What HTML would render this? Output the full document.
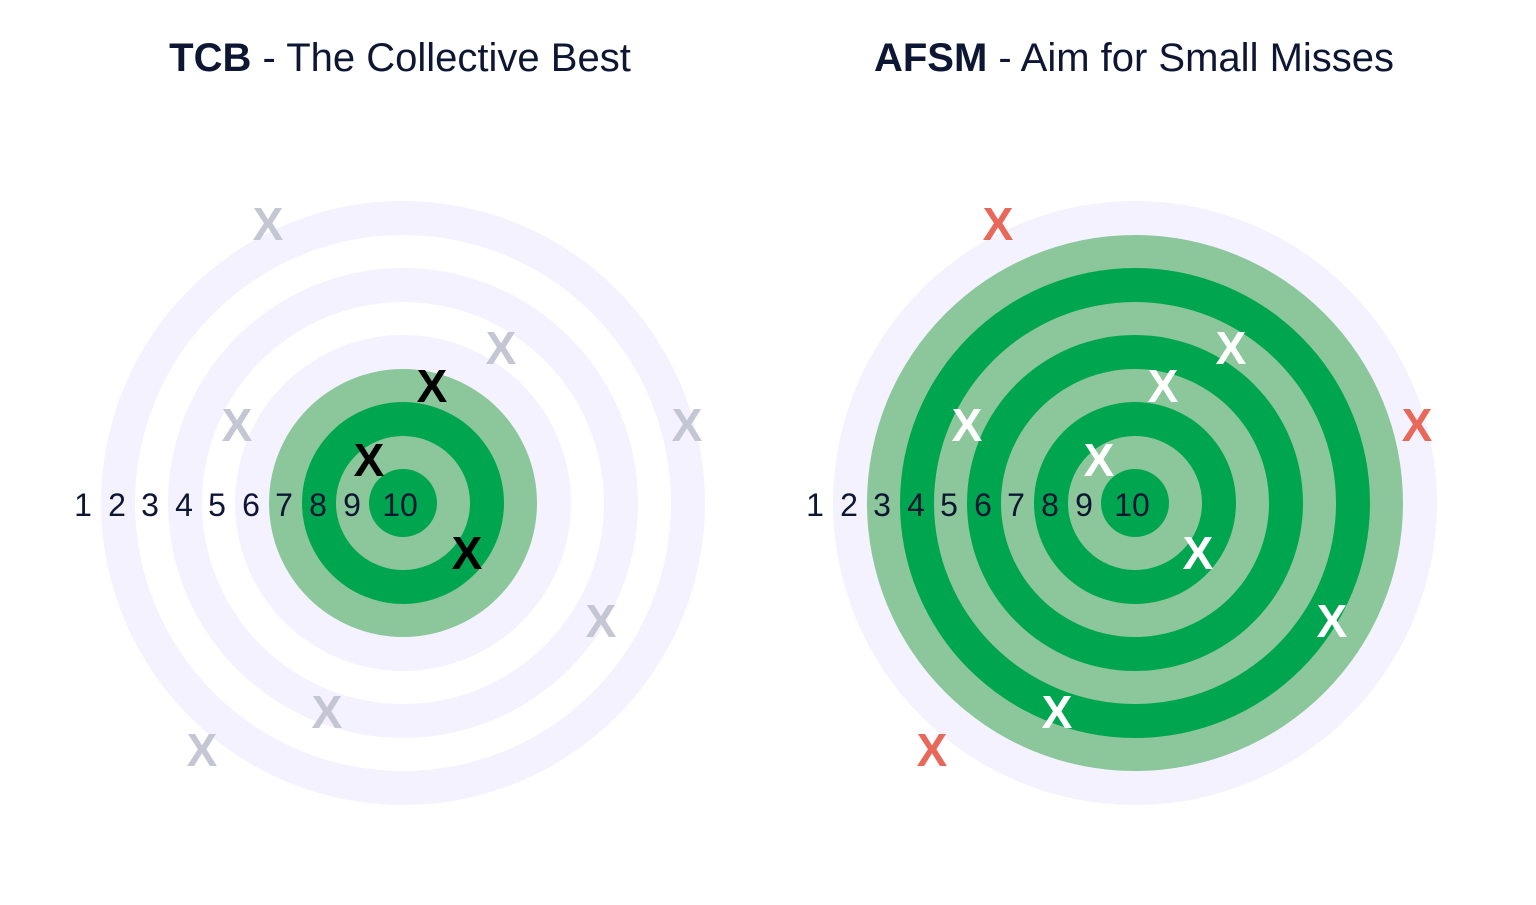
<!DOCTYPE html>
<html><head><meta charset="utf-8"><style>
html,body{margin:0;padding:0;background:#fff}
svg{display:block}
text{font-family:"Liberation Sans","DejaVu Sans",sans-serif}
</style></head><body>
<svg width="1536" height="905" viewBox="0 0 1536 905" xmlns="http://www.w3.org/2000/svg">
<rect width="1536" height="905" fill="#fff"/>
<text x="400" y="71" font-size="40" text-anchor="middle" fill="#0d1633"><tspan font-weight="bold">TCB</tspan> - The Collective Best</text>
<text x="1134" y="71" font-size="40" text-anchor="middle" fill="#0d1633"><tspan font-weight="bold">AFSM</tspan> - Aim for Small Misses</text>

<g transform="translate(403,503)">
<circle r="302" fill="#f3f2fe"/>
<circle r="268" fill="#fff"/>
<circle r="235" fill="#f3f2fe"/>
<circle r="201" fill="#fff"/>
<circle r="168" fill="#f3f2fe"/>
<circle r="134" fill="#8bc79a"/>
<circle r="101" fill="#00a64f"/>
<circle r="67" fill="#8bc79a"/>
<circle r="34" fill="#00a64f"/>
</g>
<g transform="translate(1135,503)">
<circle r="302" fill="#f3f2fe"/>
<circle r="268" fill="#8bc79a"/>
<circle r="235" fill="#00a64f"/>
<circle r="201" fill="#8bc79a"/>
<circle r="168" fill="#00a64f"/>
<circle r="134" fill="#8bc79a"/>
<circle r="101" fill="#00a64f"/>
<circle r="67" fill="#8bc79a"/>
<circle r="34" fill="#00a64f"/>
</g>

<g font-size="32" fill="#0d1633" text-anchor="middle">
<text x="83" y="516">1</text><text x="117" y="516">2</text><text x="150" y="516">3</text><text x="184" y="516">4</text><text x="217" y="516">5</text><text x="251" y="516">6</text><text x="284" y="516">7</text><text x="318" y="516">8</text><text x="352" y="516">9</text><text x="400" y="516">10</text>
<text x="815" y="516">1</text><text x="849" y="516">2</text><text x="882" y="516">3</text><text x="916" y="516">4</text><text x="949" y="516">5</text><text x="983" y="516">6</text><text x="1016" y="516">7</text><text x="1050" y="516">8</text><text x="1084" y="516">9</text><text x="1132" y="516">10</text>
</g>

<g font-size="46" font-weight="bold" text-anchor="middle">
<g fill="#c5c6d3">
<text x="268" y="240">X</text><text x="501" y="364">X</text><text x="237" y="441">X</text><text x="687" y="441">X</text><text x="601" y="637">X</text><text x="327" y="728">X</text><text x="202" y="766">X</text>
</g>
<g fill="#000">
<text x="432" y="402">X</text><text x="369" y="476">X</text><text x="467" y="569">X</text>
</g>
<g fill="#e8685a">
<text x="998" y="240">X</text><text x="1417" y="441">X</text><text x="932" y="766">X</text>
</g>
<g fill="#fff">
<text x="1231" y="364">X</text><text x="1163" y="402">X</text><text x="967" y="441">X</text><text x="1099" y="476">X</text><text x="1198" y="569">X</text><text x="1332" y="637">X</text><text x="1057" y="728">X</text>
</g>
</g>
</svg>
</body></html>
